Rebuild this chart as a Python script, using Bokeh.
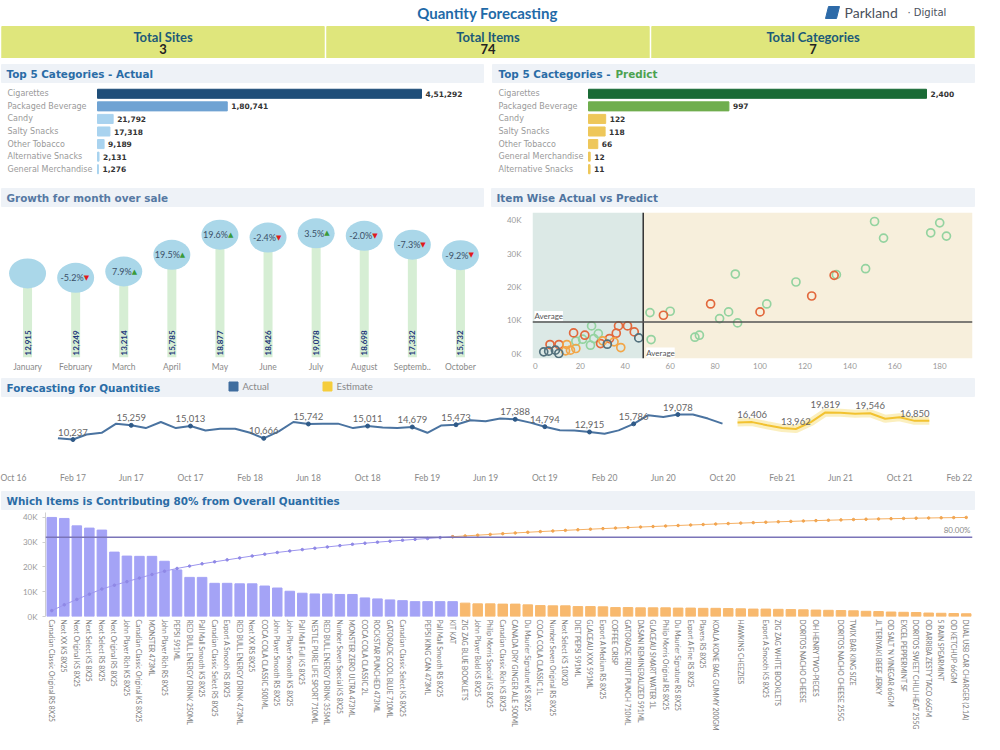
import numpy as np
import pandas as pd
from math import pi
from bokeh.plotting import figure
from bokeh.layouts import column, row
from bokeh.models import (Range1d, FactorRange, FixedTicker, ColumnDataSource, Span, Label,
                          BoxAnnotation, DatetimeTickFormatter, Spacer)
from bokeh.core.properties import value
from bokeh.embed import file_html
from bokeh.resources import INLINE

# ---------------- data ----------------
kpi_labels = ["Total Sites", "Total Items", "Total Categories"]
kpi_values = [3, 74, 7]

actual_cats = ["Cigarettes", "Packaged Beverage", "Candy", "Salty Snacks", "Other Tobacco",
               "Alternative Snacks", "General Merchandise"]
actual_vals = [451292, 180741, 21792, 17318, 9189, 2131, 1276]
predict_cats = ["Cigarettes", "Packaged Beverage", "Candy", "Salty Snacks", "Other Tobacco",
                "General Merchandise", "Alternative Snacks"]
predict_vals = [2400, 997, 122, 118, 66, 12, 11]

months = ["January", "February", "March", "April", "May", "June", "July", "August",
          "September", "October"]
month_qty = [12915, 12249, 13214, 15785, 18877, 18426, 19078, 18698, 17332, 15732]
month_growth = [None, -5.2, 7.9, 19.5, 19.6, -2.4, 3.5, -2.0, -7.3, -9.2]

green_x = [151, 180, 155, 176, 183, 147, 89, 134, 116, 103, 86, 82, 90, 73, 71, 60, 51, 51.5,
           25, 18, 21, 24.5, 26, 28]
green_y = [39700, 39300, 34700, 36300, 35300, 25500, 23900, 23700, 21500, 14900, 12500, 10500,
           9200, 5500, 4900, 12700, 12300, 4200, 8300, 3700, 4300, 2500, 4500, 6000]
red_x = [133, 123, 78, 100, 57, 37, 41, 44, 36, 33, 17, 22, 29, 6.5, 10.5]
red_y = [23500, 17300, 14900, 12500, 11500, 8300, 8300, 6500, 6100, 4500, 6200, 5500, 3000,
         2700, 2700]
orange_x = [38, 35, 14, 15.6, 13.4, 18, 30]
orange_y = [1800, 3500, 2700, 1000, 800, 1500, 3800]
slate_x = [46, 3.7, 5.9, 8.9, 10.4, 32]
slate_y = [4700, 500, 700, 1000, 0, 2800]
avg_x = 48
avg_y = 9500

actual_start = "2017-01-01"
actual_qty = [10700, 10237, 12030, 12630, 15860, 15259, 14290, 16440, 14290, 15013,
              13460, 14070, 14070, 12630, 10666, 13100, 16440, 15742, 15860, 15860,
              14290, 15011, 14540, 14290, 14679, 12630, 15200, 15473, 17050, 16690,
              17650, 17388, 16220, 14794, 13520, 13400, 12915, 12280, 13480, 15786,
              18840, 18230, 19078, 19090, 17650, 15860]
actual_labeled = [1, 5, 9, 14, 17, 21, 24, 27, 31, 33, 36, 39, 42]
estimate_start = "2020-11-01"
estimate_qty = [16300, 16406, 15300, 14300, 13962, 16400, 19819, 19700, 19400, 19546,
                17600, 18100, 16850, 16900]
estimate_labeled = [1, 4, 6, 9, 12]

pareto_items = [
    "Canadian Classic Original RS 8X25", "Next XX KS 8X25", "Next Original KS 8X25",
    "Next Select KS 8X25", "Next Select RS 8X25", "Next Original RS 8X25",
    "John Player Rich KS 8X25", "Canadian Classic Original KS 8X25", "MONSTER 473ML",
    "John Player Rich RS 8X25", "PEPSI 591ML", "RED BULL ENERGY DRINK 250ML",
    "Pall Mall Smooth KS 8X25", "Canadian Classic Select RS 8X25", "Export A Smooth RS 8X25",
    "RED BULL ENERGY DRINK 473ML", "Next XX RS 8X25", "COCA COLA CLASSIC 500ML",
    "John Player Smooth RS 8X25", "John Player Smooth KS 8X25", "Pall Mall Full KS 8X25",
    "NESTLE PURE LIFE SPORT 710ML", "RED BULL ENERGY DRINK 355ML",
    "Number Seven Special KS 8X25", "MONSTER ZERO ULTRA 473ML", "COCA COLA CLASSIC 2L",
    "ROCKSTAR PUNCHED 473ML", "GATORADE COOL BLUE 710ML", "Canadian Classic Select KS 8X25",
    "", "PEPSI KING CAN 473ML", "Pall Mall Smooth RS 8X25", "KIT KAT",
    "ZIG ZAG BLUE BOOKLETS", "John Player Bold KS 8X25", "Philip Morris Special KS 8X25",
    "Canadian Classic Rich KS 8X25", "CANADA DRY GINGER ALE 500ML",
    "Du Maurier Signature KS 8X25", "COCA COLA CLASSIC 1L", "Number Seven Original RS 8X25",
    "Next Select KS 10X20", "DIET PEPSI 591ML", "GLACEAU XXX 591ML", "Export A Medium RS 8X25",
    "COFFEE CRISP", "GATORADE FRUIT PUNCH 710ML", "DASANI REMINERALIZED 591ML",
    "GLACEAU SMART WATER 1L", "Philip Morris Original RS 8X25", "Du Maurier Signature RS 8X25",
    "Export A Fine RS 8X25", "Players RS 8X25", "KOALA KONE BAG GUMMY 200GM", "",
    "HAWKINS CHEEZIES", "", "Export A Smooth KS 8X25", "ZIG ZAG WHITE BOOKLETS", "",
    "DORITOS NACHO CHEESE", "OH HENRY TWO-PIECES", "", "DORITOS NACHO CHEESE 255G",
    "TWIX BAR KING SIZE", "", "JL TERIYAKI BEEF JERKY", "OD SALT 'N VINEGAR 66GM",
    "EXCEL PEPPERMINT SF", "DORITOS SWEET CHILI HEAT 255G", "OD ARRIBA ZESTY TACO 66GM",
    "5 RAIN SPEARMINT", "OD KETCHUP 66GM", "DUAL USB CAR CHARGER (2.1A)"]
pareto_vals = [40000, 39600, 36600, 35700, 34900, 26000, 24400, 24300, 24300, 22300,
               18800, 15800, 15800, 13400, 13400, 13200, 13200, 12300, 11500, 10200,
               9400, 9100, 9100, 8900, 8900, 7500, 7100, 6700, 6400, 6000,
               6000, 6000, 6000, 5400, 5100, 5100, 5000, 5000, 4700, 4400,
               4300, 4300, 4000, 4000, 3900, 3600, 3600, 3500, 3500, 3500,
               3400, 3400, 3300, 3300, 3200, 3100, 3000, 3000, 2900, 2800,
               2700, 2600, 2500, 2400, 2300, 2100, 2000, 1800, 1700, 1600,
               1400, 1300, 1200, 1100]
pareto_threshold = 0.8

# ---------------- helpers ----------------
TITLE_BLUE = "#2a6ca6"
STRIP = "#eef2f7"
FONT = "Lato"


def indian(n):
    s = str(int(n))
    if len(s) <= 3:
        return s
    last3, rest = s[-3:], s[:-3]
    groups = []
    while len(rest) > 2:
        groups.insert(0, rest[-2:])
        rest = rest[:-2]
    if rest:
        groups.insert(0, rest)
    return ",".join(groups) + "," + last3


def base_fig(width, height, **kw):
    p = figure(width=width, height=height, toolbar_location=None, output_backend="svg", **kw)
    p.grid.visible = False
    p.outline_line_color = None
    p.background_fill_color = "white"
    p.border_fill_color = "white"
    return p


def panel_header(width, parts, legend=None):
    # x coordinates of this strip are pixels from the panel's left edge
    h = base_fig(width, 20, x_range=Range1d(0, width), y_range=Range1d(0, 20), min_border=0)
    h.axis.visible = False
    h.quad(left=[1], right=[width - 1], bottom=[1], top=[19], color=STRIP)
    for txt, color, x, align in parts:
        h.text(x=[x], y=[10], text=[txt], text_align=align, text_baseline="middle",
               text_font=value("DejaVu Sans"), text_font_style="bold",
               text_font_size="10.4px", text_color=color)
    if legend:
        for txt, color, x in legend:
            h.scatter(x=[x], y=[11], marker="square", size=9, color=color)
            h.text(x=[x + 9], y=[11], text=[txt], text_align="left", text_baseline="middle",
                   text_font=value(FONT), text_font_size="9.5px", text_color="#888888")
    # wrapped in a row so the strip is not frame-aligned with the chart below it
    return row(h)


# ---------------- title + KPI ----------------
head = base_fig(975, 24, x_range=Range1d(0, 975), y_range=Range1d(0, 24), min_border=0)
head.axis.visible = False
head.text(x=[487], y=[12], text=["Quantity Forecasting"], text_align="center",
          text_baseline="middle", text_font=value(FONT), text_font_style="bold",
          text_font_size="15px", text_color="#1f6aa8")
head.patch(x=[828, 839, 836, 825], y=[18, 18, 6, 6], color="#2d6aa8")
head.text(x=[844], y=[12], text=["Parkland"], text_align="left", text_baseline="middle",
          text_font=value(FONT), text_font_size="14px", text_color="#4a505c")
head.text(x=[907], y=[12], text=["· Digital"], text_align="left", text_baseline="middle",
          text_font=value("DejaVu Sans"), text_font_size="10px", text_color="#4a505c")

kpi = base_fig(975, 34, x_range=Range1d(0, 3), y_range=Range1d(0, 34), min_border=0)
kpi.axis.visible = False
ki = np.arange(len(kpi_labels))
kpi.quad(left=ki + 0.004, right=ki + 1 - 0.004, bottom=0, top=32, color="#dfe67c")
kpi.text(x=ki + 0.5, y=[22] * 3, text=kpi_labels, text_align="center", text_baseline="middle",
         text_font=value(FONT), text_font_style="bold", text_font_size="13px",
         text_color="#1c5a78")
kpi.text(x=ki + 0.5, y=[10] * 3, text=[str(v) for v in kpi_values], text_align="center",
         text_baseline="middle", text_font=value(FONT), text_font_style="bold",
         text_font_size="13px", text_color="#222222")


# ---------------- top 5 panels ----------------
def top5_body(width, cats, vals, colors, left_px, bar_px):
    mb_l, mb_r, mb_t, mb_b = 4, 0, 4, 7
    frame_w = width - mb_l - mb_r
    u = vals[0] / bar_px
    x0 = -left_px * u
    p = base_fig(width, 99, x_range=Range1d(x0, (frame_w - left_px) * u),
                 y_range=FactorRange(factors=cats[::-1]),
                 min_border_left=mb_l, min_border_right=mb_r,
                 min_border_top=mb_t, min_border_bottom=mb_b)
    p.axis.visible = False
    src = ColumnDataSource(dict(cat=cats, val=vals, color=colors,
                                lab=[indian(v) for v in vals], x0=[x0] * len(cats)))
    p.hbar(y="cat", left=0, right="val", height=0.72, color="color", source=src)
    p.text(x="x0", y="cat", text="cat", x_offset=3, text_align="left", text_baseline="middle",
           text_font=value("DejaVu Sans"), text_font_size="8px", text_color="#9a9a9a", source=src)
    p.text(x="val", y="cat", text="lab", x_offset=4, text_align="left", text_baseline="middle",
           text_font=value("DejaVu Sans"), text_font_style="bold", text_font_size="7.5px",
           text_color="#333333", source=src)
    return p


act_colors = ["#1f4e79", "#6fa3d3"] + ["#a9d3ef"] * 5
pred_colors = ["#1a6b36", "#6fae4e"] + ["#eec75a"] * 5
a_head = panel_header(484, [("Top 5 Categories - Actual", TITLE_BLUE, 6, "left")])
a_body = top5_body(484, actual_cats, actual_vals, act_colors, 93, 324)
b_head = panel_header(484, [("Top 5 Cactegories -", TITLE_BLUE, 119, "right"),
                            ("Predict", "#4da24f", 124, "left")])
b_body = top5_body(484, predict_cats, predict_vals, pred_colors, 93, 338)

# ---------------- growth lollipop ----------------
gmb_l, gmb_r, gmb_t, gmb_b = 3, 0, 5, 16
g_head = panel_header(484, [("Growth for month over sale", "#5679a3", 6, "left")])
g_frame_h = 167 - gmb_t - gmb_b
g_ymax = max(month_qty) * (g_frame_h) / 125.0
g = base_fig(484, 167, x_range=Range1d(-0.5, len(months) - 0.5), y_range=Range1d(0, g_ymax),
             min_border_left=gmb_l, min_border_right=gmb_r, min_border_top=gmb_t,
             min_border_bottom=gmb_b)
g.yaxis.visible = False
gi = list(range(len(months)))
g.xaxis.ticker = FixedTicker(ticks=gi)
g.xaxis.major_label_overrides = {i: (m if len(m) <= 8 else m[:7] + "..") for i, m in enumerate(months)}
g.xaxis.axis_line_color = None
g.xaxis.major_tick_line_color = None
g.xaxis.major_tick_out = 0
g.xaxis.minor_tick_line_color = None
g.xaxis.major_label_standoff = 4
g.xaxis.major_label_text_font = FONT
g.xaxis.major_label_text_font_size = "8.5px"
g.xaxis.major_label_text_color = "#8a8a8a"
gsrc = ColumnDataSource(dict(x=gi, y=month_qty, lab=["{:,}".format(v) for v in month_qty]))
g.segment(x0="x", y0=0, x1="x", y1="y", line_width=9, line_color="#d6eed4", source=gsrc)
g.ellipse(x="x", y="y", width=37, height=30, width_units="screen", height_units="screen",
          fill_color="#aad7e9", line_color=None, source=gsrc)
g.text(x="x", y=0, text="lab", angle=pi / 2, text_align="left", text_baseline="middle",
       y_offset=-2, text_font=value(FONT), text_font_style="bold", text_font_size="8px",
       text_color="#22367a", source=gsrc)
gx = [i for i in gi if month_growth[i] is not None]
gsrc2 = ColumnDataSource(dict(
    x=gx, y=[month_qty[i] for i in gx],
    pct=["{:.1f}%".format(month_growth[i]) for i in gx],
    tri=["▲" if month_growth[i] >= 0 else "▼" for i in gx],
    tc=["#3a9a3a" if month_growth[i] >= 0 else "#e01b1b" for i in gx]))
g.text(x="x", y="y", text="pct", x_offset=8, text_align="right", text_baseline="middle",
       text_font=value(FONT), text_font_size="9px", text_color="#3a5068", source=gsrc2)
g.text(x="x", y="y", text="tri", x_offset=8, text_align="left", text_baseline="middle",
       text_font=value("DejaVu Sans"), text_font_size="7px", text_color="tc", source=gsrc2)

# ---------------- scatter ----------------
smb_l, smb_r, smb_t, smb_b = 42, 3, 5, 16
s_head = panel_header(485, [("Item Wise Actual vs Predict", "#4f74a0", 6, "left")])
sx_min, sx_max = -1.3, 194.6
sy_min, sy_max = -1500, 42400
s = base_fig(485, 167, x_range=Range1d(sx_min, sx_max), y_range=Range1d(sy_min, sy_max),
             min_border_left=smb_l, min_border_right=smb_r, min_border_top=smb_t,
             min_border_bottom=smb_b)
s.add_layout(BoxAnnotation(right=avg_x, fill_color="#dce9e6", fill_alpha=1, line_color=None,
                           level="underlay"))
s.add_layout(BoxAnnotation(left=avg_x, fill_color="#f7efdc", fill_alpha=1, line_color=None,
                           level="underlay"))
s.xaxis.ticker = FixedTicker(ticks=list(range(0, 181, 20)))
s.yaxis.ticker = FixedTicker(ticks=list(range(0, 40001, 10000)))
s.yaxis.major_label_overrides = {v: "{}K".format(v // 1000) for v in range(0, 40001, 10000)}
for ax in (s.xaxis, s.yaxis):
    ax.axis_line_color = None
    ax.major_tick_line_color = None
    ax.major_tick_out = 0
    ax.minor_tick_line_color = None
    ax.major_label_text_font = FONT
    ax.major_label_text_font_size = "8px"
    ax.major_label_text_color = "#9a9a9a"
s.xaxis.major_label_standoff = 4
s.yaxis.major_label_standoff = 11
for xs, ys, col in ((green_x, green_y, "#94d3a0"), (red_x, red_y, "#e2683c"),
                    (orange_x, orange_y, "#f2a648"), (slate_x, slate_y, "#52707c")):
    s.scatter(x=xs, y=ys, size=8, fill_color=None, line_color=col, line_width=1.7)
s.add_layout(Span(location=avg_x, dimension="height", line_color="#333333", line_width=1.5))
s.add_layout(Span(location=avg_y, dimension="width", line_color="#555555", line_width=1.5))
s.add_layout(Label(x=sx_min, y=avg_y, text="Average", x_offset=2, y_offset=1,
                   text_baseline="bottom", text_font=FONT, text_font_size="8px",
                   text_color="#555555", background_fill_color="white"))
s.add_layout(Label(x=avg_x, y=sy_min, text="Average", x_offset=3, y_offset=1,
                   text_baseline="bottom", text_font=FONT, text_font_size="8px",
                   text_color="#555555", background_fill_color="white"))

# ---------------- forecasting ----------------
fmb_l, fmb_r, fmb_t, fmb_b = 5, 3, 2, 21
f_head = panel_header(975, [("Forecasting for Quantities", TITLE_BLUE, 6, "left")],
                      legend=[("Actual", "#3f6d9e", 233), ("Estimate", "#f5cd3c", 327)])
a_dates = pd.date_range(actual_start, periods=len(actual_qty), freq="MS")
e_dates = pd.date_range(estimate_start, periods=len(estimate_qty), freq="MS")
f = base_fig(975, 92, x_axis_type="datetime",
             x_range=Range1d(pd.Timestamp("2016-09-15"), pd.Timestamp("2022-02-28")),
             y_range=Range1d(0, 24400),
             min_border_left=fmb_l, min_border_right=fmb_r, min_border_top=fmb_t,
             min_border_bottom=fmb_b)
f.yaxis.visible = False
ticks = pd.date_range("2016-10-01", "2022-02-01", freq="4MS")
f.xaxis.ticker = FixedTicker(ticks=[int(t.value // 10**6) for t in ticks])
f.xaxis.formatter = DatetimeTickFormatter(months="%b %y", days="%b %y", years="%b %y")
f.xaxis.axis_line_color = None
f.xaxis.major_tick_line_color = None
f.xaxis.major_tick_out = 0
f.xaxis.minor_tick_line_color = None
f.xaxis.major_label_standoff = 4
f.xaxis.major_label_text_font = FONT
f.xaxis.major_label_text_font_size = "8.5px"
f.xaxis.major_label_text_color = "#8a8a8a"
f.line(e_dates, estimate_qty, line_width=8, color="#f7dc6f", alpha=0.45)
f.line(e_dates, estimate_qty, line_width=2, color="#f2c230")
f.line(a_dates, actual_qty, line_width=2, color="#4a73a0")
alab = ColumnDataSource(dict(x=a_dates[actual_labeled], y=[actual_qty[i] for i in actual_labeled],
                             t=["{:,}".format(actual_qty[i]) for i in actual_labeled]))
elab = ColumnDataSource(dict(x=e_dates[estimate_labeled], y=[estimate_qty[i] for i in estimate_labeled],
                             t=["{:,}".format(estimate_qty[i]) for i in estimate_labeled]))
f.scatter("x", "y", size=4, color="#2f5a88", source=alab)
for src in (alab, elab):
    f.text("x", "y", text="t", y_offset=-4, text_align="center", text_baseline="bottom",
           text_font=value(FONT), text_font_size="9.5px", text_color="#666666", source=src)

# ---------------- pareto ----------------
pmb_l, pmb_r, pmb_t, pmb_b = 45, 3, 2, 118
p_head = panel_header(975, [("Which Items is Contributing 80% from Overall Quantities",
                             TITLE_BLUE, 6, "left")])
pv = np.array(pareto_vals, dtype=float)
total = pv.sum()
cum = np.cumsum(pv) / total
cum_before = cum - pv / total
is_top = cum_before < pareto_threshold
n_top = int(is_top.sum())
px = np.arange(1, len(pareto_vals) + 1)
pp = base_fig(975, 224, x_range=Range1d(0.5, len(pareto_vals) + 0.5), y_range=Range1d(0, 42000),
              min_border_left=pmb_l, min_border_right=pmb_r, min_border_top=pmb_t,
              min_border_bottom=pmb_b)
pp.extra_y_ranges = {"pct": Range1d(0, 42000 / 40000)}
pp.vbar(x=px, top=pareto_vals, width=0.76,
        color=["#a4a3f6" if t else "#f8b96e" for t in is_top])
pp.add_layout(Span(location=pareto_threshold, dimension="width", y_range_name="pct",
                   line_color="#7a74b8", line_width=1.5))
pp.line(px[:n_top], cum[:n_top], y_range_name="pct", line_color="#9d96ee", line_width=1)
pp.scatter(px[:n_top], cum[:n_top], y_range_name="pct", size=2.5, color="#8f88e6")
pp.line(px[n_top - 1:], cum[n_top - 1:], y_range_name="pct", line_color="#f5b064", line_width=1)
pp.scatter(px[n_top - 1:], cum[n_top - 1:], y_range_name="pct", size=2.5, color="#f2a550")
pp.add_layout(Label(x=len(pareto_vals) + 0.5, y=pareto_threshold, y_range_name="pct",
                    text="{:.2f}%".format(pareto_threshold * 100), text_align="right",
                    text_baseline="bottom", x_offset=-2, y_offset=2, text_font=FONT,
                    text_font_size="8px", text_color="#8a8a8a"))
pp.yaxis.ticker = FixedTicker(ticks=list(range(0, 40001, 10000)))
pp.yaxis.major_label_overrides = {v: "{}K".format(v // 1000) for v in range(0, 40001, 10000)}
pp.yaxis.axis_line_color = "#cfcfcf"
pp.yaxis.major_tick_line_color = "#cfcfcf"
pp.yaxis.major_tick_out = 3
pp.yaxis.major_tick_in = 0
pp.yaxis.minor_tick_line_color = None
pp.yaxis.major_label_text_font = FONT
pp.yaxis.major_label_text_font_size = "8px"
pp.yaxis.major_label_text_color = "#9a9a9a"
pp.xaxis.ticker = FixedTicker(ticks=[int(i) for i in px])
pp.xaxis.major_label_overrides = {int(i): name for i, name in zip(px, pareto_items)}
pp.xaxis.major_label_orientation = "vertical"
pp.xaxis.axis_line_color = None
pp.xaxis.major_tick_line_color = None
pp.xaxis.major_tick_out = 0
pp.xaxis.minor_tick_line_color = None
pp.xaxis.major_label_standoff = 3
pp.xaxis.major_label_text_font = FONT
pp.xaxis.major_label_text_font_size = "6.8px"
pp.xaxis.major_label_text_color = "#7a7a7a"

# ---------------- layout ----------------
top_row = row(column(a_head, a_body), column(b_head, b_body), spacing=7)
mid_row = row(column(g_head, g), column(s_head, s), spacing=6)
layout = column(head, kpi, Spacer(width=975, height=5), top_row, Spacer(width=975, height=5),
                mid_row, Spacer(width=975, height=3), column(f_head, f),
                Spacer(width=975, height=1), column(p_head, pp))

open("out.html", "w").write(file_html(layout, INLINE))
